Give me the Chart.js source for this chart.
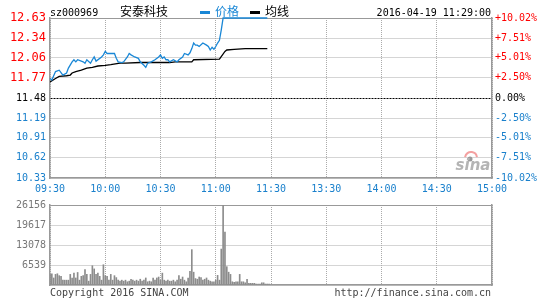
<!DOCTYPE html>
<html>
<head>
<meta charset="utf-8">
<script src="https://cdn.jsdelivr.net/npm/chart.js@4"></script>
<style>
    body { margin: 0; background: #fff; width: 545px; height: 300px; overflow: hidden; position: relative; }
    canvas { position: absolute; left: 0; }
    #priceChart { top: 0; }
    #volChart { top: 195px; }
</style>
</head>
<body>
<canvas id="priceChart" width="545" height="195"></canvas>
<canvas id="volChart" width="545" height="105"></canvas>
<script>
const stockCode = 'sz000969';
const stockName = '安泰科技';
const dateLabel = '2016-04-19 11:29:00';
const preClose = 11.48;

// minutes since 09:30 (trading minutes, lunch break removed)
const timeTicks = [0, 30, 60, 90, 120, 150, 180, 210, 240];
const timeLabels = ['09:30', '10:00', '10:30', '11:00', '11:30', '13:30', '14:00', '14:30', '15:00'];

const priceTicks = [10.33, 10.62, 10.91, 11.19, 11.48, 11.77, 12.06, 12.34, 12.63];
const pctLabels = ['-10.02%', '-7.51%', '-5.01%', '-2.50%', '0.00%', '+2.50%', '+5.01%', '+7.51%', '+10.02%'];

const volTicks = [0, 6539, 13078, 19617, 26156];

const priceMinutes = [0, 1, 3, 5, 7, 9, 10, 12, 13, 14, 15, 18, 19, 20, 22, 23, 24, 25, 28, 29, 30, 31, 35, 36, 37, 39, 40,
    42, 43, 44, 46, 48, 49, 51, 52, 53, 55, 57, 59, 60, 61, 62, 63, 64, 65, 67, 69, 70, 72, 73, 75, 76, 77, 78, 79,
    80, 81, 83, 85, 86, 87, 88, 89, 90, 91, 92, 93, 94, 118];
const priceValues = [11.76, 11.74, 11.86, 11.88, 11.81, 11.84, 11.91, 12.00, 12.03, 12.00, 12.03, 12.00, 11.98, 12.03, 11.98, 12.03, 12.07, 12.01,
    12.07, 12.10, 12.15, 12.12, 12.12, 12.05, 12.00, 11.99, 12.00,
    12.07, 12.12, 12.10, 12.07, 12.05, 12.00, 11.95, 11.92, 11.98, 12.00, 12.03, 12.07, 12.10, 12.05, 12.07, 12.03, 12.03, 12.00, 12.03, 12.00, 12.03, 12.07, 12.12, 12.10, 12.13, 12.19, 12.27, 12.24,
    12.24, 12.22, 12.27, 12.24, 12.22, 12.17, 12.21, 12.18, 12.22, 12.27, 12.31, 12.46, 12.63, 12.63];

const avgMinutes = [0, 3, 5, 9, 11, 12, 14, 17, 20, 23, 26, 30, 33, 38, 41, 49, 60, 65, 68, 77, 78, 92, 95, 96, 100, 106, 118];
const avgValues = [11.71, 11.76, 11.79, 11.80, 11.81, 11.84, 11.86, 11.88, 11.91, 11.92, 11.94, 11.95, 11.96, 11.98, 11.98, 11.99, 11.99, 11.99, 12.00, 12.00, 12.03, 12.04, 12.15, 12.17, 12.18, 12.19, 12.19];

// one bar per minute, 09:30 .. 11:29
const volumes = [3470, 3680, 2300, 3470, 3680, 3050, 2840, 1580, 1580, 1580, 1580, 3470, 2300, 3880, 2300, 4100, 1580, 2840, 3050, 5040,
    3470, 1260, 3470, 6300, 5260, 3470, 3880, 2840, 1580, 6620, 3050, 2840, 1580, 3470, 1580, 3050, 2420, 1580, 1260, 1580,
    1260, 1580, 1050, 1260, 1890, 1580, 1260, 1580, 1260, 1890, 1260,
    1580, 2300, 1050, 1260, 1050, 2300, 1580, 2300, 2610, 1580,
    3880, 1580, 1260, 1580, 1260, 1260, 1580, 1050, 1580, 3050, 1890,
    2610, 1580, 1050, 2300, 4500, 11560, 4190, 2110, 1890, 2610,
    2420, 1580, 1890, 2300, 1580, 1260, 1050, 1050, 1580, 3150, 1580,
    11750, 26156, 17300, 5990, 4190, 3470, 1050, 850, 1050, 1050,
    3470, 1050, 1050, 720, 1890, 540, 540, 540, 540, 315,
    315, 315, 720, 720, 315, 315, 315];

const BLUE = '#1a80cc';
const LINE_BLUE = '#1987d6';
const MONO = '"DejaVu Sans Mono", monospace';
const GRID = '#aaa';
const FRAME = '#999';

function tickColor(ctx) {
    if (!ctx.tick) return '#000';
    if (ctx.tick.value > preClose + 0.001) return '#f00';
    if (ctx.tick.value < preClose - 0.001) return BLUE;
    return '#000';
}

function setTicks(values) {
    return scale => { scale.ticks = values.map(v => ({ value: v })); };
}

// header, legend and watermark
const headerPlugin = {
    id: 'header',
    afterDraw(chart) {
        const c = chart.ctx;
        const ds = chart.data.datasets;
        c.save();
        c.textBaseline = 'alphabetic';
        c.textAlign = 'left';
        c.fillStyle = '#000';
        c.font = '10px ' + MONO;
        c.fillText(stockCode, 50, 15.5);
        c.font = '12px "Noto Sans CJK SC"';
        c.fillText(stockName, 120, 16);

        c.fillStyle = ds[0].borderColor;
        c.fillRect(200, 11, 10, 3);
        c.fillText(ds[0].label, 215, 16);
        c.fillStyle = ds[1].borderColor;
        c.fillRect(250, 11, 10, 3);
        c.fillText(ds[1].label, 265, 16);

        c.fillStyle = '#000';
        c.font = '10px ' + MONO;
        c.textAlign = 'right';
        c.fillText(dateLabel, 491, 16);

        // sina watermark
        c.strokeStyle = '#f4a0a0';
        c.lineWidth = 2;
        c.beginPath();
        c.arc(471, 158, 6, Math.PI * 1.05, Math.PI * 1.95);
        c.stroke();
        c.fillStyle = '#999';
        c.beginPath();
        c.arc(470, 159, 2.5, 0, Math.PI * 2);
        c.fill();
        c.fillStyle = '#b4b4b4';
        c.font = 'italic bold 15px "DejaVu Sans"';
        c.textAlign = 'center';
        c.fillText('sina', 473, 170);
        c.restore();
    }
};

const footerPlugin = {
    id: 'footer',
    afterDraw(chart) {
        const c = chart.ctx;
        c.save();
        c.fillStyle = '#444';
        c.font = '10px ' + MONO;
        c.textBaseline = 'alphabetic';
        c.textAlign = 'left';
        c.fillText('Copyright 2016 SINA.COM', 50, 101);
        c.textAlign = 'right';
        c.fillText('http://finance.sina.com.cn', 491, 101);
        c.restore();
    }
};

document.addEventListener('DOMContentLoaded', () => {
    Chart.defaults.font.family = MONO;
    Chart.defaults.font.size = 10;
    renderPriceChart();
    renderVolumeChart();
});

function renderPriceChart() {
    const ctx = document.getElementById('priceChart');
    return new Chart(ctx.getContext('2d'), {
        type: 'line',
        data: {
            datasets: [{
                label: '价格',
                data: priceMinutes.map((m, i) => ({ x: m, y: priceValues[i] })),
                borderColor: LINE_BLUE,
                borderWidth: 1.3,
                pointRadius: 0,
                tension: 0,
                clip: 2,
                yAxisID: 'y'
            }, {
                label: '均线',
                data: avgMinutes.map((m, i) => ({ x: m, y: avgValues[i] })),
                borderColor: '#000',
                borderWidth: 1.3,
                pointRadius: 0,
                tension: 0,
                yAxisID: 'y'
            }]
        },
        options: {
            responsive: false,
            animation: false,
            layout: { padding: { top: 18, left: 0, right: 0, bottom: 0 } },
            plugins: { legend: { display: false }, tooltip: { enabled: false } },
            scales: {
                x: {
                    type: 'linear', min: 0, max: 240,
                    afterBuildTicks: setTicks(timeTicks),
                    afterFit: s => { s.height = 17; },
                    ticks: { callback: (v, i) => timeLabels[i], color: BLUE, padding: 5, maxRotation: 0, autoSkip: false },
                    grid: { color: GRID, drawTicks: false },
                    border: { color: FRAME, width: 1.5, dash: [1, 1] }
                },
                y: {
                    position: 'left', min: priceTicks[0], max: priceTicks[priceTicks.length - 1],
                    afterBuildTicks: setTicks(priceTicks),
                    afterFit: s => { s.width = 50; },
                    ticks: {
                        callback: v => v.toFixed(2),
                        color: tickColor,
                        font: ctx => ({ family: MONO, size: ctx.tick && ctx.tick.value > preClose + 0.001 ? 12 : 10 }),
                        padding: 4
                    },
                    grid: {
                        drawTicks: false,
                        color: ctx => ctx.tick && ctx.tick.value === preClose ? '#000' : (ctx.tick && ctx.tick.value === 12.63 ? FRAME : GRID)
                    },
                    border: {
                        color: FRAME, width: 1.5,
                        dash: ctx => {
                            if (!ctx.tick) return [];
                            if (ctx.tick.value === preClose) return [2, 1];
                            if (ctx.tick.value === 12.63) return [];
                            return [1, 1];
                        }
                    }
                },
                yr: {
                    position: 'right', min: priceTicks[0], max: priceTicks[priceTicks.length - 1],
                    afterBuildTicks: setTicks(priceTicks),
                    afterFit: s => { s.width = 53; },
                    ticks: { callback: (v, i) => pctLabels[i], color: tickColor, padding: 3 },
                    grid: { display: false, drawTicks: false },
                    border: { color: FRAME, width: 1.5 }
                }
            }
        },
        plugins: [headerPlugin]
    });
}

function renderVolumeChart() {
    const ctx = document.getElementById('volChart');
    return new Chart(ctx.getContext('2d'), {
        type: 'bar',
        data: {
            datasets: [{
                label: 'volume',
                data: volumes.map((v, i) => ({ x: i, y: v })),
                backgroundColor: '#8c8c8c',
                barThickness: 1
            }]
        },
        options: {
            responsive: false,
            animation: false,
            layout: { padding: { top: 7, left: 0, right: 0, bottom: 0 } },
            plugins: { legend: { display: false }, tooltip: { enabled: false } },
            scales: {
                x: {
                    type: 'linear', min: 0, max: 240, offset: false,
                    afterBuildTicks: setTicks(timeTicks),
                    afterFit: s => { s.height = 15; },
                    ticks: { display: false },
                    grid: { color: GRID, drawTicks: false, offset: false },
                    border: { color: FRAME, width: 1.5, dash: [1, 1] }
                },
                y: {
                    position: 'left', min: 0, max: volTicks[volTicks.length - 1],
                    afterBuildTicks: setTicks(volTicks),
                    afterFit: s => { s.width = 50; },
                    ticks: { callback: v => v === 0 ? '' : String(v), color: '#777', padding: 4 },
                    grid: {
                        drawTicks: false,
                        color: ctx => ctx.tick && ctx.tick.value === 26156 ? FRAME : GRID
                    },
                    border: {
                        color: FRAME, width: 1.5,
                        dash: ctx => (ctx.tick && ctx.tick.value !== 26156) ? [1, 1] : []
                    }
                },
                yr: {
                    position: 'right', min: 0, max: volTicks[volTicks.length - 1],
                    afterFit: s => { s.width = 53; },
                    ticks: { display: false },
                    grid: { display: false, drawTicks: false },
                    border: { color: FRAME, width: 1.5 }
                }
            }
        },
        plugins: [footerPlugin]
    });
}
</script>
</body>
</html>
